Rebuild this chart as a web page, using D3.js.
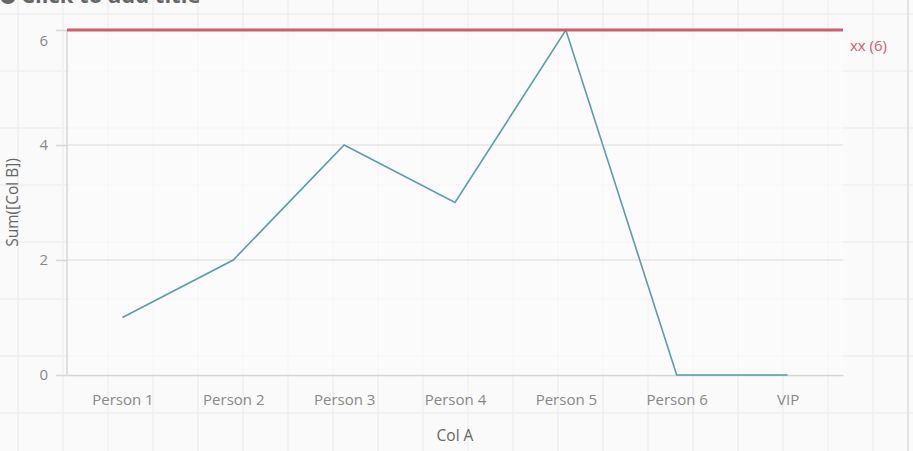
<!DOCTYPE html>
<html>
<head>
<meta charset="utf-8">
<script src="https://cdn.jsdelivr.net/npm/d3@7"></script>
<style>
  body { margin: 0; background: #fafafa; font-family: "Open Sans", sans-serif; }
  svg { display: block; }
</style>
</head>
<body>
<div id="chart"></div>
<script>
let categories = ["Person 1", "Person 2", "Person 3", "Person 4", "Person 5", "Person 6", "VIP"];
let values = [1, 2, 4, 3, 6, 0, 0];
let yTicks = [0, 2, 4, 6];
let refValue = 6;
let refLabel = "xx (6)";

let W = 913, H = 451;
let margin = {top: 30, right: 70, bottom: 76, left: 67};
let width = W - margin.left - margin.right;
let height = H - margin.top - margin.bottom;
let font = "'Open Sans', sans-serif";

let svg = d3.select("#chart")
    .append("svg")
    .attr("width", W)
    .attr("height", H)
    .attr("font-family", font);

// editor background grid
let bg = svg.append("g");
bg.selectAll(".vg")
    .data(d3.range(18, W, 45))
    .enter()
    .append("line")
    .attr("x1", d => d).attr("x2", d => d)
    .attr("y1", 0).attr("y2", H)
    .attr("stroke", "#efefef").attr("stroke-width", 1.5);
bg.selectAll(".hg")
    .data(d3.range(14, H, 57))
    .enter()
    .append("line")
    .attr("x1", 0).attr("x2", W)
    .attr("y1", d => d).attr("y2", d => d)
    .attr("stroke", "#efefef").attr("stroke-width", 1.5);
bg.append("line")
    .attr("x1", 908).attr("x2", 908)
    .attr("y1", 0).attr("y2", H)
    .attr("stroke", "#e2e2e2").attr("stroke-width", 2);

// title (cut off at top, as in the editor)
svg.append("circle")
    .attr("cx", 8).attr("cy", -4).attr("r", 8)
    .attr("fill", "#666");
svg.append("text")
    .attr("x", 21).attr("y", 3)
    .attr("font-size", 22).attr("font-weight", "bold")
    .attr("fill", "#666")
    .text("Click to add title");

let g = svg.append("g")
    .attr("transform", "translate(" + margin.left + "," + margin.top + ")");

g.append("rect")
    .attr("width", width).attr("height", height)
    .attr("fill", "#fcfcfc").attr("opacity", 0.6);

let x = d3.scalePoint()
    .domain(categories)
    .range([0, width])
    .padding(0.5);

let y = d3.scaleLinear()
    .domain([0, 6])
    .range([height, 0]);

// gridlines
g.selectAll(".grid")
    .data(yTicks.filter(d => d > 0 && d < 6))
    .enter()
    .append("line")
    .attr("x1", 0).attr("x2", width)
    .attr("y1", d => y(d)).attr("y2", d => y(d))
    .attr("stroke", "#e6e6e6").attr("stroke-width", 1.5);

// y axis
let yAxis = g.append("g")
    .call(d3.axisLeft(y).tickValues(yTicks).tickFormat(d3.format("d")).tickSize(11).tickPadding(8));
yAxis.select(".domain").attr("stroke", "#d6d6d6").attr("stroke-width", 1.5)
    .attr("d", "M0," + y(6) + "V" + height);
yAxis.selectAll(".tick line").attr("stroke", "#d6d6d6").attr("stroke-width", 1.5);
yAxis.selectAll(".tick text")
    .attr("fill", "#888").attr("font-size", 15)
    .attr("font-family", font)
    .attr("dy", d => d === 6 ? "1.0em" : "0.32em");

// x axis
let xAxis = g.append("g")
    .attr("transform", "translate(0," + height + ")")
    .call(d3.axisBottom(x).tickSize(0).tickPadding(19));
xAxis.select(".domain").attr("stroke", "#d6d6d6").attr("stroke-width", 1.5);
xAxis.selectAll(".tick text")
    .attr("fill", "#888").attr("font-size", 15)
    .attr("font-family", font);

// axis titles
svg.append("text")
    .attr("transform", "translate(18," + (margin.top + height / 2) + ") rotate(-90)")
    .attr("text-anchor", "middle")
    .attr("font-size", 15.5).attr("fill", "#666")
    .text("Sum([Col B])");
svg.append("text")
    .attr("x", margin.left + width / 2)
    .attr("y", 441)
    .attr("text-anchor", "middle")
    .attr("font-size", 15.5).attr("fill", "#666")
    .text("Col A");

// line
let line = d3.line()
    .x((d, i) => x(categories[i]))
    .y(d => y(d));
g.append("path")
    .datum(values)
    .attr("fill", "none")
    .attr("stroke", "#5b9bac")
    .attr("stroke-width", 1.6)
    .attr("d", line);

// reference line
g.append("line")
    .attr("x1", 0).attr("x2", width)
    .attr("y1", y(refValue)).attr("y2", y(refValue))
    .attr("stroke", "#d05d6c").attr("stroke-width", 3);
g.append("text")
    .attr("x", width + 7).attr("y", y(refValue) + 21)
    .attr("font-size", 15).attr("fill", "#d05d6c")
    .text(refLabel);
</script>
</body>
</html>
